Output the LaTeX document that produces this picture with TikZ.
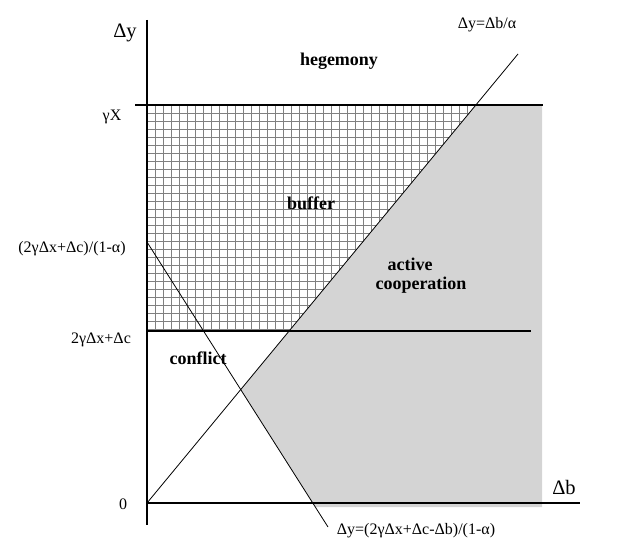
\documentclass[tikz,border=0pt]{standalone}
\usepackage{fontspec}
\setmainfont{Liberation Serif}
\newlength{\du}
\setlength{\du}{1pt}
\tikzset{
  eqlabel/.style={font=\fontsize{16}{18}\selectfont, inner sep=0pt},
  axislabel/.style={font=\fontsize{20.5}{23}\selectfont, inner sep=0pt},
  regionlabel/.style={font=\fontsize{18}{21}\selectfont\bfseries, inner sep=0pt},
  axisline/.style={line width=1.2\du},
  bandline/.style={line width=1.1\du},
  boundline/.style={line width=0.8\du},
  gridline/.style={line width=0.8\du, draw=black!50},
}

\begin{document}
\begin{tikzpicture}
\pgftransformxscale{1.000000}
\pgftransformyscale{-1.000000}
\useasboundingbox (0\du,0\du) rectangle (638\du,556\du);
\definecolor{dotcolor}{rgb}{0.830000, 0.830000, 0.830000}
% axes and bounds
\coordinate (O) at (147\du,503\du);
\coordinate (ytop) at (147\du,20\du);
\coordinate (ybot) at (147\du,525\du);
\coordinate (xend) at (580\du,503\du);
\coordinate (gXl) at (135\du,105\du);
\coordinate (gXr) at (543\du,105\du);
\coordinate (thrl) at (147\du,331\du);
\coordinate (thrr) at (531\du,331\du);
\coordinate (diagend) at (518\du,54\du);
\coordinate (descstart) at (147\du,242\du);
\coordinate (descend) at (328\du,527\du);
\coordinate (dotbl) at (147\du,507\du);
\coordinate (dotbr) at (542\du,507\du);
\coordinate (dottr) at (542\du,105\du);
\coordinate (gXa) at (147\du,105\du);
\coordinate (cross) at (intersection of O--diagend and descstart--descend);
\coordinate (diagX) at (intersection of O--diagend and gXl--gXr);
\coordinate (diagthr) at (intersection of O--diagend and thrl--thrr);
\coordinate (descbot) at (intersection of descstart--descend and dotbl--dotbr);
% active cooperation
\fill[dotcolor] (diagX)--(dottr)--(dotbr)--(descbot)--(cross)--cycle;
% buffer
\begin{scope}
\clip (gXa)--(diagX)--(diagthr)--(thrl)--cycle;
\foreach \gx in {155,163,...,475}
  \draw[gridline] (\gx\du,105\du)--(\gx\du,331\du);
\foreach \gy in {113,121,...,329}
  \draw[gridline] (147\du,\gy\du)--(476\du,\gy\du);
\end{scope}
\draw[bandline] (gXl)--(gXr);
\draw[bandline] (thrl)--(thrr);
\draw[boundline] (O)--(diagend);
\draw[boundline] (descstart)--(descend);
\draw[axisline] (ytop)--(ybot);
\draw[axisline] (O)--(xend);
% setfont left to latex
\node[axislabel] (ylab) at (125\du,33\du){Δy};
\node[axislabel] (xlab) at (564\du,487\du){Δb};
\node[eqlabel] (gXlab) at (112\du,117\du){γX};
\node[eqlabel] (kinklab) at (72\du,249\du){(2γΔx+Δc)/(1-α)};
\node[eqlabel] (thrlab) at (101\du,340\du){2γΔx+Δc};
\node[eqlabel] (zerolab) at (123\du,504\du){0};
\node[eqlabel] (diaglab) at (487\du,25\du){Δy=Δb/α};
\node[eqlabel] (desclab) at (416\du,531\du){Δy=(2γΔx+Δc-Δb)/(1-α)};
% setfont left to latex
\node[regionlabel] (hegemony) at (339\du,61\du){hegemony};
\node[regionlabel] (buffer) at (311\du,203\du){buffer};
\node[regionlabel] (active) at (410\du,264\du){active};
\node[regionlabel] (coop) at (421\du,285\du){cooperation};
\node[regionlabel] (conflict) at (198\du,358\du){conflict};
\end{tikzpicture}
\end{document}
